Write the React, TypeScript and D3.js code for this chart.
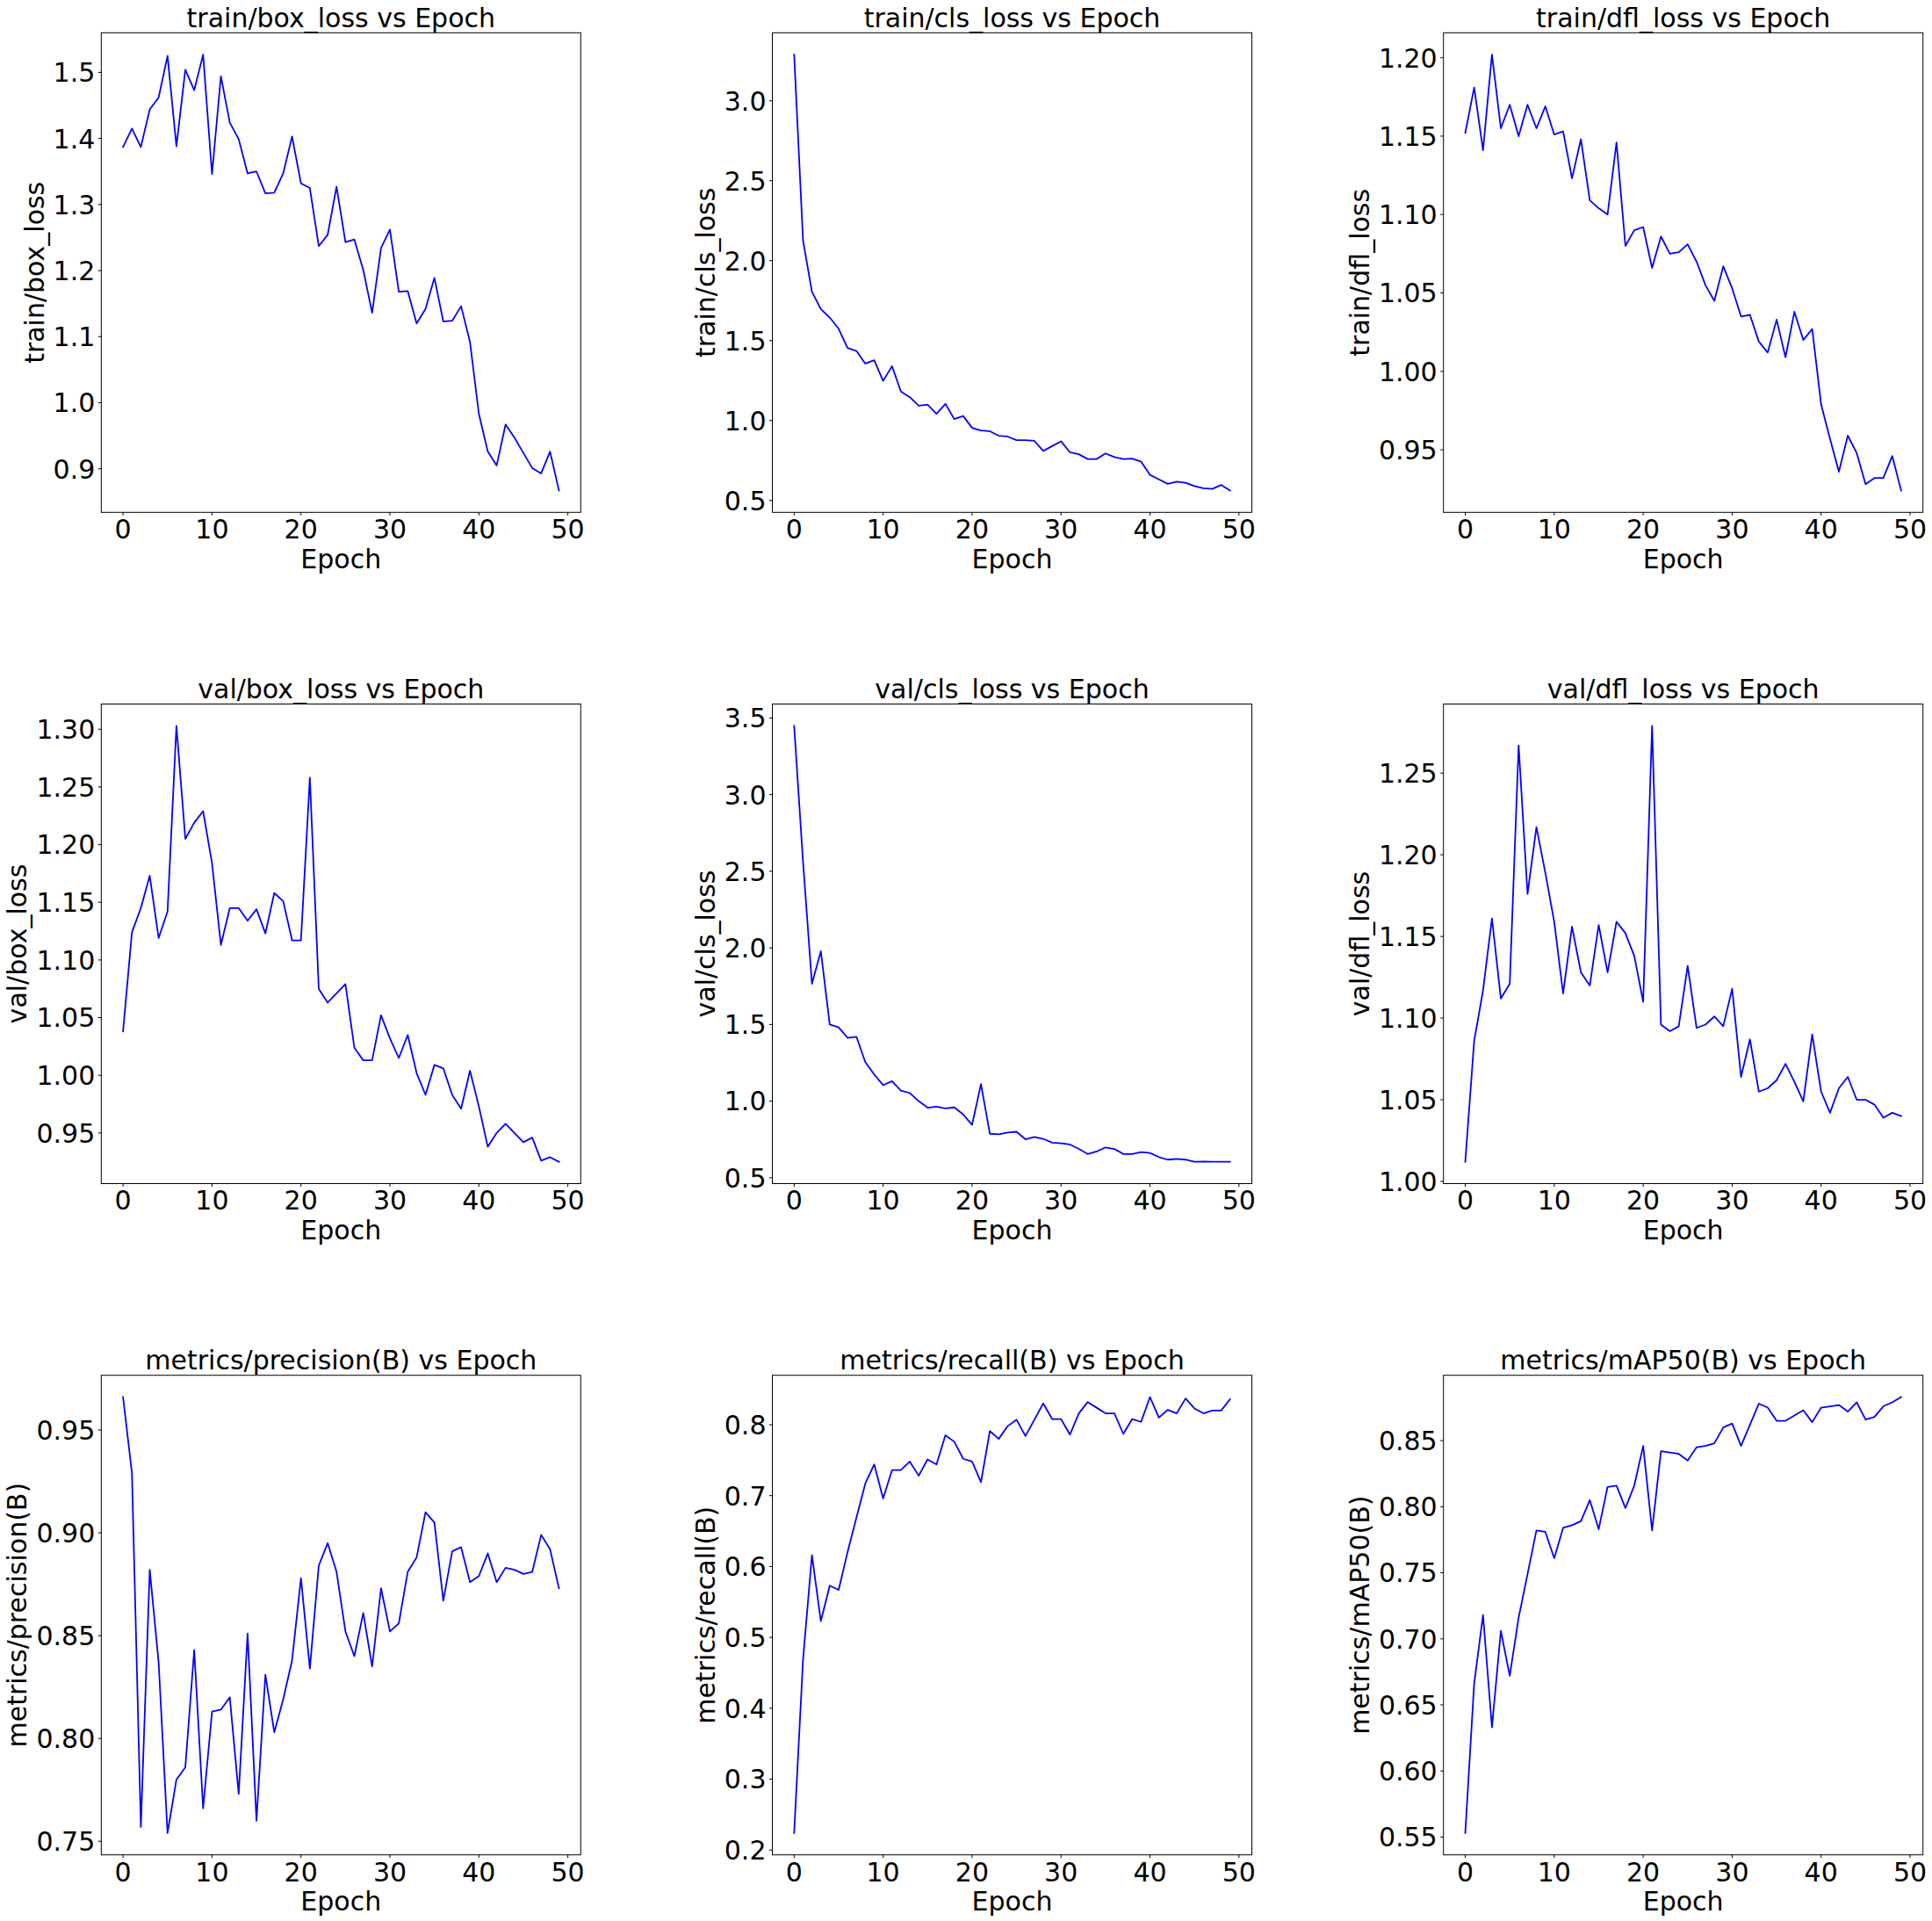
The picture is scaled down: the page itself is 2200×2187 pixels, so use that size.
import React from 'react';
import * as d3 from 'd3';

// ---------- data ----------
const EPOCHS = d3.range(0, 50);
const X_TICKS = [0, 10, 20, 30, 40, 50];

const trainBoxLoss = [1.387, 1.415, 1.387, 1.444, 1.462, 1.525, 1.388, 1.504, 1.473, 1.527,
  1.346, 1.494, 1.424, 1.399, 1.347, 1.350, 1.317, 1.318, 1.347, 1.403,
  1.332, 1.325, 1.237, 1.254, 1.327, 1.243, 1.247, 1.201, 1.136, 1.234,
  1.262, 1.168, 1.169, 1.120, 1.142, 1.189, 1.123, 1.124, 1.146, 1.092,
  0.983, 0.926, 0.905, 0.967, 0.947, 0.924, 0.901, 0.893, 0.926, 0.867];
const trainClsLoss = [3.289, 2.125, 1.806, 1.697, 1.644, 1.574, 1.454, 1.435, 1.356, 1.377,
  1.248, 1.340, 1.181, 1.146, 1.093, 1.100, 1.042, 1.104, 1.009, 1.028,
  0.954, 0.937, 0.933, 0.905, 0.900, 0.877, 0.877, 0.873, 0.810, 0.840,
  0.870, 0.801, 0.789, 0.759, 0.759, 0.794, 0.771, 0.759, 0.762, 0.743,
  0.660, 0.632, 0.604, 0.618, 0.611, 0.590, 0.576, 0.572, 0.597, 0.562];
const trainDflLoss = [1.152, 1.181, 1.141, 1.202, 1.155, 1.170, 1.150, 1.170, 1.155, 1.169,
  1.151, 1.153, 1.123, 1.148, 1.109, 1.104, 1.100, 1.146, 1.080, 1.090,
  1.092, 1.066, 1.086, 1.075, 1.076, 1.081, 1.070, 1.055, 1.045, 1.067,
  1.053, 1.035, 1.036, 1.019, 1.012, 1.033, 1.009, 1.038, 1.020, 1.027,
  0.979, 0.957, 0.936, 0.959, 0.948, 0.928, 0.932, 0.932, 0.946, 0.924];
const valBoxLoss = [1.038, 1.124, 1.145, 1.173, 1.119, 1.142, 1.303, 1.205, 1.219, 1.229,
  1.184, 1.113, 1.145, 1.145, 1.134, 1.144, 1.123, 1.158, 1.151, 1.117,
  1.117, 1.258, 1.075, 1.063, 1.071, 1.079, 1.024, 1.013, 1.013, 1.052,
  1.032, 1.015, 1.035, 1.002, 0.983, 1.009, 1.006, 0.983, 0.971, 1.004,
  0.973, 0.938, 0.950, 0.958, 0.950, 0.942, 0.946, 0.926, 0.929, 0.925];
const valClsLoss = [3.449, 2.560, 1.766, 1.978, 1.500, 1.481, 1.413, 1.420, 1.254, 1.174,
  1.104, 1.130, 1.068, 1.053, 1.000, 0.957, 0.964, 0.952, 0.959, 0.913,
  0.845, 1.111, 0.787, 0.783, 0.795, 0.800, 0.751, 0.766, 0.754, 0.729,
  0.725, 0.717, 0.688, 0.655, 0.671, 0.698, 0.688, 0.655, 0.655, 0.667,
  0.662, 0.635, 0.618, 0.623, 0.618, 0.604, 0.606, 0.604, 0.604, 0.604];
const valDflLoss = [1.012, 1.086, 1.117, 1.161, 1.112, 1.121, 1.267, 1.176, 1.217, 1.189,
  1.159, 1.115, 1.156, 1.128, 1.120, 1.157, 1.128, 1.159, 1.152, 1.138,
  1.110, 1.279, 1.096, 1.092, 1.095, 1.132, 1.094, 1.096, 1.101, 1.095,
  1.118, 1.064, 1.087, 1.055, 1.057, 1.062, 1.072, 1.061, 1.049, 1.090,
  1.055, 1.042, 1.057, 1.064, 1.050, 1.050, 1.047, 1.039, 1.042, 1.040];
const precisionB = [0.966, 0.929, 0.757, 0.882, 0.837, 0.754, 0.780, 0.786, 0.843, 0.766,
  0.813, 0.814, 0.820, 0.773, 0.851, 0.760, 0.831, 0.803, 0.819, 0.838,
  0.878, 0.834, 0.884, 0.895, 0.881, 0.852, 0.840, 0.861, 0.835, 0.873,
  0.852, 0.856, 0.881, 0.888, 0.910, 0.905, 0.867, 0.891, 0.893, 0.876,
  0.879, 0.890, 0.876, 0.883, 0.882, 0.880, 0.881, 0.899, 0.892, 0.873];
const recallB = [0.224, 0.469, 0.616, 0.523, 0.573, 0.567, 0.620, 0.669, 0.717, 0.744,
  0.696, 0.736, 0.736, 0.748, 0.728, 0.751, 0.744, 0.785, 0.776, 0.752,
  0.748, 0.719, 0.791, 0.780, 0.798, 0.807, 0.784, 0.807, 0.830, 0.808,
  0.808, 0.786, 0.816, 0.832, 0.824, 0.816, 0.816, 0.787, 0.808, 0.804,
  0.839, 0.810, 0.821, 0.816, 0.837, 0.823, 0.816, 0.820, 0.820, 0.836];
const mAP50B = [0.553, 0.666, 0.718, 0.633, 0.706, 0.672, 0.716, 0.749, 0.782, 0.781,
  0.761, 0.784, 0.786, 0.789, 0.805, 0.783, 0.815, 0.816, 0.799, 0.816,
  0.846, 0.782, 0.842, 0.841, 0.840, 0.835, 0.845, 0.846, 0.848, 0.860,
  0.863, 0.846, 0.862, 0.878, 0.875, 0.865, 0.865, 0.869, 0.873, 0.864,
  0.875, 0.876, 0.877, 0.872, 0.879, 0.866, 0.868, 0.876, 0.879, 0.883];

const ticksTrainBox = [0.9, 1.0, 1.1, 1.2, 1.3, 1.4, 1.5];
const ticksTrainCls = [0.5, 1.0, 1.5, 2.0, 2.5, 3.0];
const ticksTrainDfl = [0.95, 1.0, 1.05, 1.1, 1.15, 1.2];
const ticksValBox = [0.95, 1.0, 1.05, 1.1, 1.15, 1.2, 1.25, 1.3];
const ticksValCls = [0.5, 1.0, 1.5, 2.0, 2.5, 3.0, 3.5];
const ticksValDfl = [1.0, 1.05, 1.1, 1.15, 1.2, 1.25];
const ticksPrecision = [0.75, 0.8, 0.85, 0.9, 0.95];
const ticksRecall = [0.2, 0.3, 0.4, 0.5, 0.6, 0.7, 0.8];
const ticksMap50 = [0.55, 0.6, 0.65, 0.7, 0.75, 0.8, 0.85];

const PANELS = [
  { name: 'train/box_loss', values: trainBoxLoss, ticks: ticksTrainBox, dec: 1 },
  { name: 'train/cls_loss', values: trainClsLoss, ticks: ticksTrainCls, dec: 1 },
  { name: 'train/dfl_loss', values: trainDflLoss, ticks: ticksTrainDfl, dec: 2 },
  { name: 'val/box_loss', values: valBoxLoss, ticks: ticksValBox, dec: 2 },
  { name: 'val/cls_loss', values: valClsLoss, ticks: ticksValCls, dec: 1 },
  { name: 'val/dfl_loss', values: valDflLoss, ticks: ticksValDfl, dec: 2 },
  { name: 'metrics/precision(B)', values: precisionB, ticks: ticksPrecision, dec: 2 },
  { name: 'metrics/recall(B)', values: recallB, ticks: ticksRecall, dec: 1 },
  { name: 'metrics/mAP50(B)', values: mAP50B, ticks: ticksMap50, dec: 2 },
];

// ---------- layout ----------
const W = 2200;
const H = 2187;
const SIZE = 546;
const LEFT0 = 115.3;
const TOP0 = 37.3;
const STEP = 764.2;
const FONT = "'DejaVu Sans', sans-serif";
const FS = 30;
const TICK_LEN = 3.5;
const TICK_PAD = 3.5;
const LABEL_PAD = 4;
const ASC = 0.76 * FS;
const DESC = 0.236 * FS;

function tickTextWidth(s: string) {
  let w = 0;
  for (const ch of s) w += ch === '.' ? 0.318 : 0.636;
  return w * FS;
}

function Panel({ p, idx }: { p: any; idx: number }) {
  const col = idx % 3;
  const row = Math.floor(idx / 3);
  const x0 = LEFT0 + col * STEP;
  const y0 = TOP0 + row * STEP;
  const xExt = d3.extent(EPOCHS) as [number, number];
  const xm = (xExt[1] - xExt[0]) * 0.05;
  const x = d3.scaleLinear().domain([xExt[0] - xm, xExt[1] + xm]).range([x0, x0 + SIZE]);
  const yExt = d3.extent(p.values as number[]) as [number, number];
  const ym = (yExt[1] - yExt[0]) * 0.05;
  const y = d3.scaleLinear().domain([yExt[0] - ym, yExt[1] + ym]).range([y0 + SIZE, y0]);
  const line = d3.line<number>().x((_, i) => x(EPOCHS[i])).y((d) => y(d));
  const labels = p.ticks.map((t: number) => t.toFixed(p.dec));
  const maxW = Math.max(...labels.map(tickTextWidth));
  const ylabelX = x0 - TICK_LEN - TICK_PAD - maxW - LABEL_PAD - DESC;
  const xTickBase = y0 + SIZE + TICK_LEN + TICK_PAD + ASC;
  const xLabelBase = xTickBase + DESC + LABEL_PAD + ASC;

  return (
    <g>
      <path d={line(p.values) || ''} fill="none" stroke="#0000ff" strokeWidth={1.8}
        strokeLinejoin="round" strokeLinecap="square" />
      <rect x={x0} y={y0} width={SIZE} height={SIZE} fill="none" stroke="#000" strokeWidth={1} />
      {X_TICKS.map((t) => (
        <g key={'x' + t}>
          <line x1={x(t)} x2={x(t)} y1={y0 + SIZE} y2={y0 + SIZE + TICK_LEN} stroke="#000" strokeWidth={1} />
          <text x={x(t)} y={xTickBase} textAnchor="middle" fontSize={FS} fontFamily={FONT} fill="#000">{t}</text>
        </g>
      ))}
      {p.ticks.map((t: number, i: number) => (
        <g key={'y' + i}>
          <line x1={x0 - TICK_LEN} x2={x0} y1={y(t)} y2={y(t)} stroke="#000" strokeWidth={1} />
          <text x={x0 - TICK_LEN - TICK_PAD} y={y(t) + 10.9} textAnchor="end" fontSize={FS} fontFamily={FONT} fill="#000">{labels[i]}</text>
        </g>
      ))}
      <text x={x0 + SIZE / 2} y={y0 - 6.5} textAnchor="middle" fontSize={FS} fontFamily={FONT} fill="#000">{p.name + ' vs Epoch'}</text>
      <text x={x0 + SIZE / 2} y={xLabelBase} textAnchor="middle" fontSize={FS} fontFamily={FONT} fill="#000">Epoch</text>
      <text transform={`translate(${ylabelX},${y0 + SIZE / 2}) rotate(-90)`} textAnchor="middle" fontSize={FS} fontFamily={FONT} fill="#000">{p.name}</text>
    </g>
  );
}

export default function App() {
  return (
    <svg width={W} height={H} viewBox={`0 0 ${W} ${H}`}
      style={{ position: 'absolute', left: 0, top: 0, display: 'block' }}>
      <rect x={0} y={0} width={W} height={H} fill="#fff" />
      {PANELS.map((p, i) => <Panel key={p.name} p={p} idx={i} />)}
    </svg>
  );
}
